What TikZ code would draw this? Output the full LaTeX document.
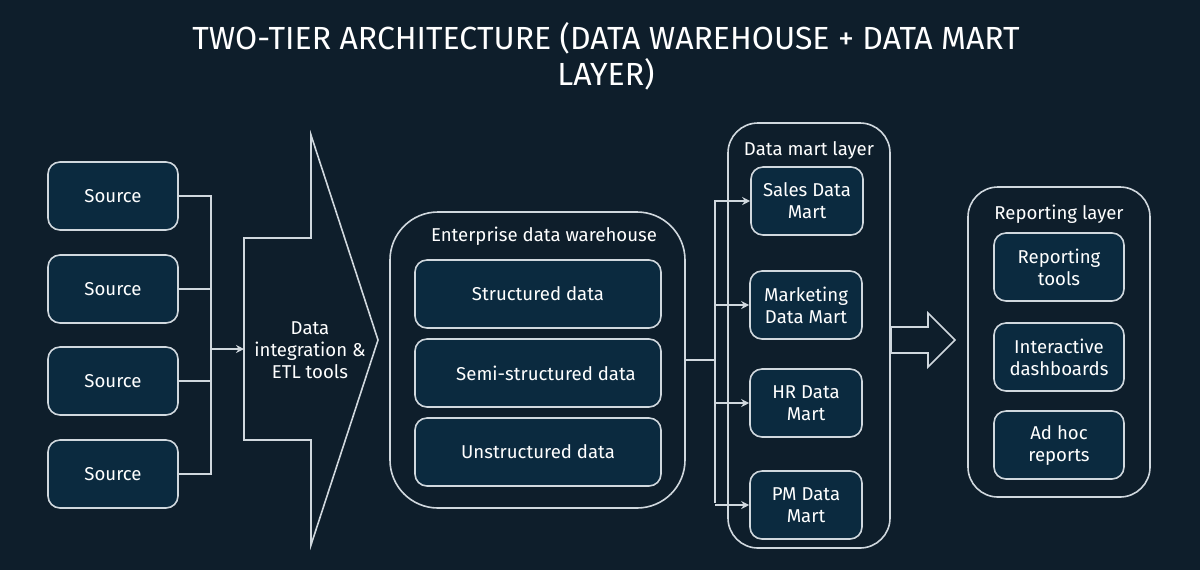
\documentclass[tikz,border=0pt]{standalone}
\usepackage{fontspec}
\setmainfont{Fira Sans}
\usetikzlibrary{arrows.meta}
\definecolor{bg}{HTML}{0E1E2B}
\definecolor{boxf}{HTML}{0B2A3F}
\definecolor{ln}{HTML}{D0D8DE}
\begin{document}
\begin{tikzpicture}[x=0.5pt,y=-0.5pt,
  box/.style={draw=ln,line width=0.8pt,fill=boxf,rounded corners=6pt,text=white,font=\fontsize{9.3}{11}\selectfont,align=center},
  cont/.style={draw=ln,line width=0.8pt,fill=bg},
  lab/.style={text=white,font=\fontsize{9.3}{11}\selectfont,align=center},
  conn/.style={draw=ln,line width=0.8pt},
  arr/.style={conn,-{Stealth[length=4pt,width=4pt]}}]
\fill[bg] (0,0) rectangle (1200,570);
\useasboundingbox (0,0) rectangle (1200,570);
\node[text=white,font=\fontsize{16}{18}\selectfont,align=center] (title) at (606,56) {TWO-TIER ARCHITECTURE (DATA WAREHOUSE + DATA MART\\LAYER)};
% sources
\foreach \i/\y in {1/196,2/289,3/381,4/474}
  \node[box,minimum width=65pt,minimum height=34pt] (s\i) at (113,\y) {Source};
% ETL arrow
\draw[conn] (244,238) -- (311,238) -- (311,135) -- (378,340) -- (311,545) -- (311,440) -- (244,440) -- cycle;
\node[lab] (etl) at (310,350) {Data\\integration \&\\ETL tools};
\coordinate (etlin) at (244,349);
\coordinate (bus1) at (211,349);
\foreach \i in {1,...,4} \draw[conn] (s\i.east) -| (bus1);
\draw[conn] (211,196) -- (211,474);
\draw[arr] (bus1) -- (etlin);
% EDW
\draw[cont,rounded corners=24pt] (390,212) rectangle (685,508);
\node[lab] (edwt) at (544,236) {Enterprise data warehouse};
\node[box,minimum width=123pt,minimum height=34pt] (d1) at (538,294) {Structured data};
\node[box,minimum width=123pt,minimum height=34pt] (d2) at (538,373) {\hspace{8pt}Semi-structured data};
\node[box,minimum width=123pt,minimum height=34pt] (d3) at (538,452) {Unstructured data};
\coordinate (edwout) at (685,360);
\coordinate (bus2) at (715,360);
% Data mart layer
\draw[cont,rounded corners=15pt] (728,123) rectangle (890,548);
\node[lab] (dmt) at (809,150) {Data mart layer};
\node[box,minimum width=56pt,minimum height=34pt] (m1) at (807,201) {Sales Data\\Mart};
\node[box,minimum width=56pt,minimum height=34pt] (m2) at (806,305) {Marketing\\Data Mart};
\node[box,minimum width=56pt,minimum height=34pt] (m3) at (806,403) {HR Data\\Mart};
\node[box,minimum width=56pt,minimum height=34pt] (m4) at (806,505) {PM Data\\Mart};
\draw[conn] (edwout) -- (bus2);
\draw[conn] (715,200) -- (715,503);
\foreach \i in {1,...,4} \draw[arr] (bus2 |- m\i.west) -- (m\i.west);
% block arrow
\draw[conn,fill=bg] (891,327) -- (928,327) -- (928,313) -- (955,340) -- (928,367) -- (928,353) -- (891,353) -- cycle;
% Reporting
\draw[cont,rounded corners=15pt] (968,187) rectangle (1150,497);
\node[lab] (rlt) at (1059,214) {Reporting layer};
\node[box,minimum width=65pt,minimum height=34pt] (r1) at (1059,267) {Reporting\\tools};
\node[box,minimum width=65pt,minimum height=34pt] (r2) at (1059,357) {Interactive\\dashboards};
\node[box,minimum width=65pt,minimum height=34pt] (r3) at (1059,445) {Ad hoc\\reports};
\end{tikzpicture}
\end{document}
